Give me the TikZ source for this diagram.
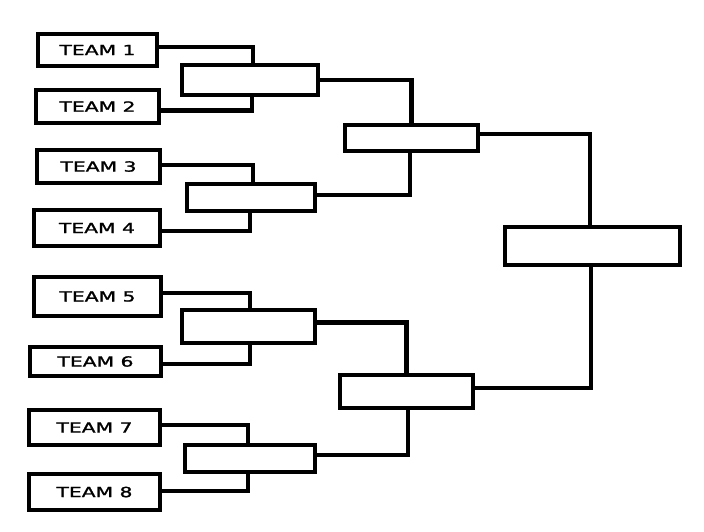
\documentclass[tikz,border=0pt]{standalone}
\usepackage{fontspec}
\usepackage{graphicx}
\setmainfont{DejaVu Sans}
\newfontfamily\teamfont[FakeBold=1.2]{DejaVu Sans}
\begin{document}
\begin{tikzpicture}[x=1pt,y=-1pt,
  box/.style={draw=black,line width=4.5pt,fill=white,rectangle,inner sep=0pt,outer sep=0pt},
  team/.style={box,font=\teamfont\fontsize{14}{15}\selectfont},
  link/.style={draw=black,line width=4.5pt,line join=miter}]
\useasboundingbox[fill=white] (0,0) rectangle (704,532);
% team boxes
\node[team,minimum width=119pt,minimum height=32pt] (t1) at (97.5,50) {\scalebox{1.45}[1]{TEAM 1}};
\node[team,minimum width=123pt,minimum height=33pt] (t2) at (97.5,106.5) {\scalebox{1.45}[1]{TEAM 2}};
\node[team,minimum width=123pt,minimum height=33pt] (t3) at (98.5,166.5) {\scalebox{1.45}[1]{TEAM 3}};
\node[team,minimum width=126pt,minimum height=36pt] (t4) at (97,228) {\scalebox{1.45}[1]{TEAM 4}};
\node[team,minimum width=127pt,minimum height=39pt] (t5) at (97.5,296.5) {\scalebox{1.45}[1]{TEAM 5}};
\node[team,minimum width=131pt,minimum height=29pt] (t6) at (95.5,361.5) {\scalebox{1.45}[1]{TEAM 6}};
\node[team,minimum width=131pt,minimum height=35pt] (t7) at (94.5,427.5) {\scalebox{1.45}[1]{TEAM 7}};
\node[team,minimum width=131pt,minimum height=36pt] (t8) at (94.5,492) {\scalebox{1.45}[1]{TEAM 8}};
% round 2
\node[box,minimum width=136pt,minimum height=30pt] (r1) at (250,80) {};
\node[box,minimum width=128pt,minimum height=27pt] (r2) at (251,197.5) {};
\node[box,minimum width=133pt,minimum height=33pt] (r3) at (248.5,326.5) {};
\node[box,minimum width=130pt,minimum height=27pt] (r4) at (250,458.5) {};
% semis
\node[box,minimum width=133pt,minimum height=26pt] (s1) at (411.5,138) {};
\node[box,minimum width=133pt,minimum height=33pt] (s2) at (406.5,391.5) {};
% final
\node[box,minimum width=175pt,minimum height=38pt] (f) at (592.5,246) {};
% connectors
\draw[link] ([yshift=3pt]t1.east) -| ([xshift=3pt]r1.north);
\draw[link] ([yshift=-4pt]t2.east) -| ([xshift=2pt]r1.south);
\draw[link] ([yshift=1.5pt]t3.east) -| ([xshift=2pt]r2.north);
\draw[link] ([yshift=-3pt]t4.east) -| ([xshift=-1pt]r2.south);
\draw[link] ([yshift=3.5pt]t5.east) -| ([xshift=1.5pt]r3.north);
\draw[link] ([yshift=-2.5pt]t6.east) -| ([xshift=1.5pt]r3.south);
\draw[link] ([yshift=2.5pt]t7.east) -| ([xshift=-2pt]r4.north);
\draw[link] ([yshift=1pt]t8.east) -| ([xshift=-2pt]r4.south);
\draw[link] (r1.east) -| (s1.north);
\draw[link] ([yshift=2.5pt]r2.east) -| ([xshift=-1.5pt]s1.south);
\draw[link] ([yshift=4pt]r3.east) -| (s2.north);
\draw[link] ([yshift=3.5pt]r4.east) -| ([xshift=1.5pt]s2.south);
\draw[link] ([yshift=4pt]s1.east) -| ([xshift=-2.5pt]f.north);
\draw[link] ([yshift=3.5pt]s2.east) -| ([xshift=-1.5pt]f.south);
\end{tikzpicture}
\end{document}
